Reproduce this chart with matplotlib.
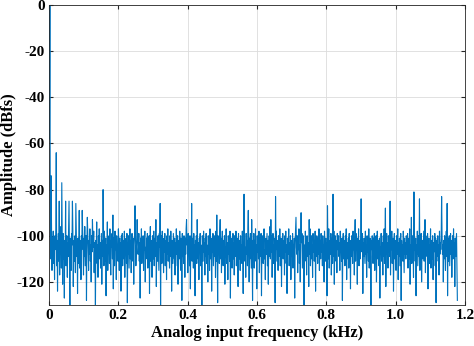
import matplotlib
matplotlib.use("Agg")
import matplotlib.pyplot as plt
import numpy as np

plt.rcParams['font.family'] = ['Liberation Serif', 'DejaVu Serif']
plt.rcParams['font.weight'] = 'bold'
plt.rcParams['axes.unicode_minus'] = False

# noise floor, attenuation in dB (positive numbers), evenly spaced 0..f_end
floor_db = """
53 58 72 96 110 104 99 115 101 107 98 112 104 119 100 106 97 109 113 102 124 105 99 111 103 117 100 108 96 114 106 101 121 99 110 104 127 102 108 98
113 105 100 118 103 109 97 112 106 130 101 107 115 99 104 110 98 122 105 102 111 100 116 107 97 109 103 125 101 112 105 99 114 108 102 119 100 106 111 98
104 117 101 109 96 113 107 100 128 103 110 99 106 115 102 108 97 111 104 120 100 107 113 101 105 98 116 103 109 131 102 106 99 112 104 118 100 108 97 110
103 114 106 99 121 102 109 105 100 113 98 107 111 101 126 104 108 99 115 103 106 100 112 97 109 117 102 105 99 110 104 123 101 107 113 98 106 102 119 100
108 104 111 97 106 115 101 109 103 124 100 107 99 113 105 102 110 98 118 104 106 101 112 99 129 103 108 100 114 106 97 110 102 116 105 99 107 111 101 121
104 100 109 98 113 106 102 117 100 108 105 99 111 103 127 101 107 97 112 104 109 100 115 102 106 98 120 105 110 101 107 99 114 103 108 100 125 104 96 111
102 107 118 100 105 110 98 113 104 101 109 97 122 106 103 111 100 108 115 99 105 102 130 106 100 112 98 109 104 116 101 107 99 113 105 102 119 100 108 97
111 103 106 114 100 109 98 105 124 102 107 112 99 104 110 101 117 103 108 97 106 113 100 121 105 102 110 98 107 115 101 104 128 99 109 103 112 100 106 118
101 108 97 110 104 102 116 99 107 105 113 100 123 103 109 98 111 106 101 114 99 108 104 126 102 107 100 112 97 105 110 103 119 101 106 99 113 104 108 131
100 105 111 98 107 103 117 101 109 99 112 104 106 120 100 108 102 115 97 110 105 101 124 103 107 99 113 106 100 109 104 118 98 111 102 106 129 100 108 103
112 99 106 110 101 116 104 98 108 113 102 107 100 121 105 109 97 112 103 106 119 100 108 104 111 98 127 102 107 101 114 105 99 110 103 117 100 106 109 98
113 104 101 108 122 99 106 110 102 115 100 107 104 112 98 109 125 103 106 100 111 105 118 99 108 102 113 97 107 104 120 101 110 99 106 114 103 108 128 102
106 99 114 102 108 97 111 104 123 100 107 103 110 98 116 105 101 109 99 126 104 107 100 112 103 97 110 106 119 101 108 104 99 113 102 121 105 100 109 96
110 103 107 100 118 105 99 112 104 108 101 129 103 106 98 111 107 102 115 100 104 109 97 113 106 101 122 103 108 99 110 105 102 117 100 107 98 112 104 125
101 108 105 97 113 103 110 100 119 106 102 109 99 114 104 107 101 127 103 98 111 105 108 100 116 102 106 97 112 104 120 101 109 103 99 114 106 100 108 130
104 111 98 107 102 117 100 106 109 103 122 101 108 97 113 105 100 110 104 118 99 107 102 111 106 98 124 103 109 100 105 112 101 108 97 115 104 102 110 99
107 102 113 100 108 104 120 98 106 111 101 109 103 126 100 105 110 97 114 104 102 108 99 117 106 101 112 103 109 98 121 105 100 107 111 102 116 99 106 104
100 109 103 115 98 107 105 111 101 128 104 99 110 106 102 113 100 108 97 119 103 106 110 101 114 99 107 104 123 102 109 100 105 112 98 106 103 117 101 108
111 99 106 104 121 101 108 97 113 105 102 110 100 116 104 107 99 125 103 109 101 106 112 98 108 104 118 100 107 103 111 97 114 105 101 109 130 102 106 100
105 112 101 108 99 115 103 107 100 120 104 98 110 106 102 113 101 127 105 108 99 111 103 106 117 100 109 97 112 104 101 122 106 99 108 103 114 100 107 102
109 100 117 103 106 98 112 105 101 124 107 99 110 104 102 115 100 108 106 97 119 103 109 101 113 105 99 128 102 107 104 111 98 106 116 101 108 103 110 100
103 108 99 114 106 101 110 97 121 104 107 102 112 100 109 105 118 99 106 103 111 101 126 104 108 98 113 106 100 109 103 115 101 107 99 120 105 102 110 104
98 111 105 102 116 100 107 103 109 99 123 106 101 112 104 108 97 114 102 106 110 100 119 103 107 105 99 113 101 129 106 102 109 100 111 104 117 98 108 103
106 101 112 99 108 104 120 102 110 100 107 115 103 98 109 105 126 101 111 104 100 113 106 99 108 102 118 105 100 110 97 107 103 122 101 109 104 99 114 128
"""
f_end = 1.178  # kHz

# input tone, harmonics / spurs (kHz, dBfs)
spur_f = [0.003, 0.006, 0.021, 0.029, 0.037, 0.048, 0.058, 0.067, 0.077, 0.087, 0.096, 0.110,
          0.125, 0.137, 0.156, 0.168, 0.184, 0.248, 0.254, 0.308, 0.320, 0.397,
          0.412, 0.428, 0.484, 0.494, 0.563, 0.575, 0.585, 0.640, 0.654, 0.712,
          0.727, 0.750, 0.803, 0.819, 0.883, 0.900, 0.970, 0.984, 1.045, 1.053,
          1.069, 1.085, 1.133, 1.148]
spur_db = [0, -74, -64, -85, -77, -85, -85, -85, -86, -89, -89, -92,
           -93, -94, -80, -94, -91, -87, -93, -93, -86, -93,
           -86, -93, -91, -93, -82, -89, -93, -93, -83, -92,
           -90, -93, -87, -82, -93, -84, -88, -85, -92, -81,
           -84, -93, -83, -86]

amp = -np.array(floor_db.split(), dtype=float)
freq = np.linspace(0, f_end, len(amp))
for f, a in zip(spur_f, spur_db):
    amp[np.argmin(np.abs(freq - f))] = a

fig = plt.figure(figsize=(4.74, 3.46), dpi=100)
ax = fig.add_axes([0.1034, 0.1185, 0.8776, 0.867])
ax.plot(freq, amp, color='#0072BD', linewidth=0.8)

ax.set_xlim(0, 1.2)
ax.set_ylim(-130, 0)
ax.set_xticks([0, 0.2, 0.4, 0.6, 0.8, 1.0, 1.2])
ax.set_xticklabels(['0', '0.2', '0.4', '0.6', '0.8', '1.0', '1.2'])
ax.set_yticks([0, -20, -40, -60, -80, -100, -120])
ax.grid(True, color='#dcdcdc', linewidth=0.6)
ax.set_axisbelow(True)
ax.tick_params(direction='in', top=True, right=True, labelsize=11, length=3,
               color='#262626', pad=3)
for s in ax.spines.values():
    s.set_color('#262626')
    s.set_linewidth(0.6)

ax.set_xlabel('Analog input frequency (kHz)', fontsize=12, fontweight='bold', labelpad=2)
ax.set_ylabel('Amplitude (dBfs)', fontsize=12, fontweight='bold')
ax.yaxis.set_label_coords(-0.078, 0.5)

fig.savefig('out.png', dpi=100)
